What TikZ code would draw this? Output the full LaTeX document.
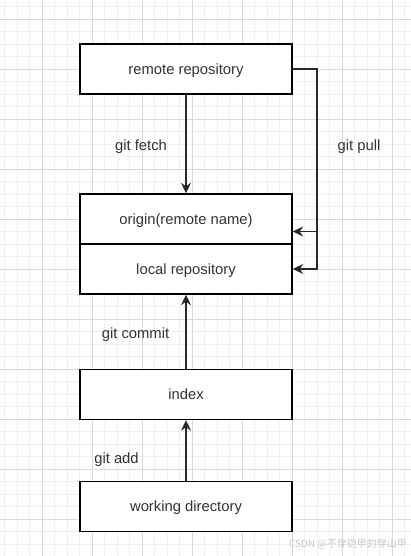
\documentclass[tikz,border=0pt]{standalone}
\usepackage{fontspec}
\setmainfont{Liberation Sans}
\newfontfamily\cjkfont{Noto Sans CJK SC}
\usetikzlibrary{arrows.meta}
\definecolor{txt}{HTML}{333333}
\definecolor{gridminor}{HTML}{F0F0F0}
\definecolor{gridmajor}{HTML}{DADADA}
\definecolor{wm}{HTML}{C8C8C8}
\tikzset{
  box/.style={draw=black, line width=1.4pt, fill=white, minimum width=212pt, minimum height=50pt, inner sep=0pt, text depth=0pt, text=txt, font=\fontsize{14.8}{17}\selectfont},
  flow/.style={draw=txt!80!black, line width=1.3pt, -{Stealth[length=10.5pt,width=10pt,inset=3.5pt]}},
  lbl/.style={text=txt, font=\fontsize{14.8}{17}\selectfont, inner sep=0pt, text depth=0pt},
}
\begin{document}
\begin{tikzpicture}[x=1pt,y=-1pt]
\useasboundingbox (0,0) rectangle (411,556);
\fill[white] (0,0) rectangle (411,556);
% grid
\foreach \i in {0,...,32} {
  \pgfmathsetmacro{\xx}{4.8+12.5*\i}
  \draw[gridminor, line width=1pt] (\xx,0) -- (\xx,556);
}
\foreach \i in {0,...,44} {
  \pgfmathsetmacro{\yy}{6.8+12.5*\i}
  \draw[gridminor, line width=1pt] (0,\yy) -- (411,\yy);
}
\foreach \i in {0,...,8} {
  \pgfmathsetmacro{\xx}{42.3+50*\i}
  \draw[gridmajor, line width=1pt] (\xx,0) -- (\xx,556);
}
\foreach \i in {0,...,10} {
  \pgfmathsetmacro{\yy}{19.3+50*\i}
  \draw[gridmajor, line width=1pt] (0,\yy) -- (411,\yy);
}
% boxes
\node[box] (remote) at (186,69) {remote repository};
\node[box] (origin) at (186,219) {origin(remote name)};
\node[box] (local) at (186,269) {local repository};
\node[box] (index) at (186,394.5) {index};
\node[box] (work) at (186,506.5) {working directory};
% connectors
\draw[flow] (remote.south) -- (origin.north);
\draw[flow] (index.north) -- (local.south);
\draw[flow] (work.north) -- (index.south);
\coordinate (pr) at (317,69);
\draw[flow] (remote.east) -- (pr) |- ([yshift=-12.5pt]origin.east);
\draw[flow] (pr) |- (local.east);
% labels
\node[lbl] (lfetch) at (141,145.5) {git fetch};
\node[lbl] (lpull) at (359,145.5) {git pull};
\node[lbl] (lcommit) at (135.5,333.5) {git commit};
\node[lbl] (ladd) at (116.5,458.5) {git add};
% watermark
\node[text=wm, font=\cjkfont\fontsize{10}{12}\selectfont, inner sep=0pt, anchor=east] (wmark) at (407,544.5) {CSDN @不穿铠甲的穿山甲};
\end{tikzpicture}
\end{document}
